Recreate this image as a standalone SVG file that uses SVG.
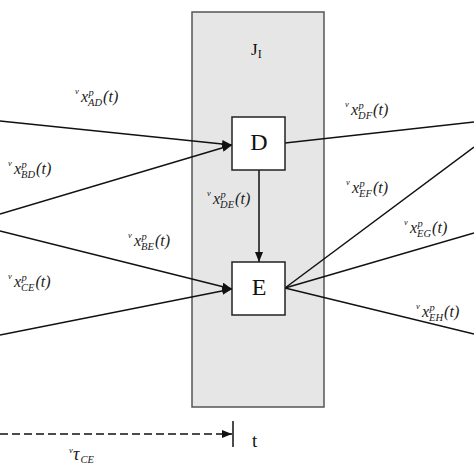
<svg xmlns="http://www.w3.org/2000/svg" width="474" height="474" viewBox="0 0 474 474">
<style>
.ln{stroke:#111;stroke-width:1.5;fill:none}
.bx{fill:#fff;stroke:#222;stroke-width:1.5}
.lb{font-family:"Liberation Serif","Times New Roman",serif;font-style:italic;fill:#1a1a1a}
.big{font-family:"Liberation Serif","Times New Roman",serif;fill:#111}
</style>
<defs>
<marker id="ah" markerWidth="10" markerHeight="8" refX="10" refY="4" orient="auto" markerUnits="userSpaceOnUse">
<path d="M0,0 L10,4 L0,8 Z" fill="#111"/>
</marker>
</defs>
<rect width="474" height="474" fill="#fff"/>
<g id="region-JI">
<rect x="192" y="12" width="132" height="395" fill="#e6e6e6" stroke="#555" stroke-width="1.5"/>
<text class="big" x="251" y="55" font-size="17">J<tspan font-size="12" dy="3">I</tspan></text>
</g>
<g id="connectors">
<line class="ln" x1="0" y1="121" x2="232" y2="145" marker-end="url(#ah)"/>
<line class="ln" x1="0" y1="214" x2="232" y2="145" marker-end="url(#ah)"/>
<line class="ln" x1="0" y1="231" x2="232" y2="289" marker-end="url(#ah)"/>
<line class="ln" x1="0" y1="335" x2="232" y2="289" marker-end="url(#ah)"/>
<line class="ln" x1="259" y1="170" x2="259" y2="262" marker-end="url(#ah)"/>
<line class="ln" x1="285" y1="143" x2="474" y2="122"/>
<line class="ln" x1="285" y1="288" x2="474" y2="147"/>
<line class="ln" x1="285" y1="288" x2="474" y2="233"/>
<line class="ln" x1="285" y1="288" x2="474" y2="334"/>
<line class="ln" x1="0" y1="434" x2="232" y2="434" stroke-dasharray="8,4" marker-end="url(#ah)"/>
<line class="ln" x1="233" y1="421" x2="233" y2="447"/>
</g>
<g id="node-D">
<rect class="bx" x="232" y="117" width="53" height="53"/>
<text class="big" x="259" y="150" font-size="24" text-anchor="middle">D</text>
</g>
<g id="node-E">
<rect class="bx" x="232" y="262" width="53" height="53"/>
<text class="big" x="259" y="295" font-size="24" text-anchor="middle">E</text>
</g>
<g id="labels">
<g transform="translate(81,102)"><text class="lb" x="-6" y="-8" font-size="8.5">v</text><text class="lb" x="7.5" y="-6" font-size="10.5">p</text><text class="lb" x="0" y="0" font-size="16">x<tspan font-size="10.5" dy="4">AD</tspan><tspan font-size="16" dy="-4" dx="1">(t)</tspan></text></g>
<g transform="translate(14,174)"><text class="lb" x="-6" y="-8" font-size="8.5">v</text><text class="lb" x="7.5" y="-6" font-size="10.5">p</text><text class="lb" x="0" y="0" font-size="16">x<tspan font-size="10.5" dy="4">BD</tspan><tspan font-size="16" dy="-4" dx="1">(t)</tspan></text></g>
<g transform="translate(213,204)"><text class="lb" x="-6" y="-8" font-size="8.5">v</text><text class="lb" x="7.5" y="-6" font-size="10.5">p</text><text class="lb" x="0" y="0" font-size="16">x<tspan font-size="10.5" dy="4">DE</tspan><tspan font-size="16" dy="-4" dx="1">(t)</tspan></text></g>
<g transform="translate(134,246)"><text class="lb" x="-6" y="-8" font-size="8.5">v</text><text class="lb" x="7.5" y="-6" font-size="10.5">p</text><text class="lb" x="0" y="0" font-size="16">x<tspan font-size="10.5" dy="4">BE</tspan><tspan font-size="16" dy="-4" dx="1">(t)</tspan></text></g>
<g transform="translate(14,287)"><text class="lb" x="-6" y="-8" font-size="8.5">v</text><text class="lb" x="7.5" y="-6" font-size="10.5">p</text><text class="lb" x="0" y="0" font-size="16">x<tspan font-size="10.5" dy="4">CE</tspan><tspan font-size="16" dy="-4" dx="1">(t)</tspan></text></g>
<g transform="translate(351,115)"><text class="lb" x="-6" y="-8" font-size="8.5">v</text><text class="lb" x="7.5" y="-6" font-size="10.5">p</text><text class="lb" x="0" y="0" font-size="16">x<tspan font-size="10.5" dy="4">DF</tspan><tspan font-size="16" dy="-4" dx="1">(t)</tspan></text></g>
<g transform="translate(352,193)"><text class="lb" x="-6" y="-8" font-size="8.5">v</text><text class="lb" x="7.5" y="-6" font-size="10.5">p</text><text class="lb" x="0" y="0" font-size="16">x<tspan font-size="10.5" dy="4">EF</tspan><tspan font-size="16" dy="-4" dx="1">(t)</tspan></text></g>
<g transform="translate(410,233)"><text class="lb" x="-6" y="-8" font-size="8.5">v</text><text class="lb" x="7.5" y="-6" font-size="10.5">p</text><text class="lb" x="0" y="0" font-size="16">x<tspan font-size="10.5" dy="4">EG</tspan><tspan font-size="16" dy="-4" dx="1">(t)</tspan></text></g>
<g transform="translate(422,317)"><text class="lb" x="-6" y="-8" font-size="8.5">v</text><text class="lb" x="7.5" y="-6" font-size="10.5">p</text><text class="lb" x="0" y="0" font-size="16">x<tspan font-size="10.5" dy="4">EH</tspan><tspan font-size="16" dy="-4" dx="1">(t)</tspan></text></g>
<g transform="translate(73,460)"><text class="lb" x="-4" y="-7" font-size="8.5">v</text><text class="lb" x="0" y="0" font-size="18">τ<tspan font-size="10.5" dy="3" dx="1">CE</tspan></text></g>
<text class="big" x="252" y="447" font-size="19">t</text>
</g>
</svg>
